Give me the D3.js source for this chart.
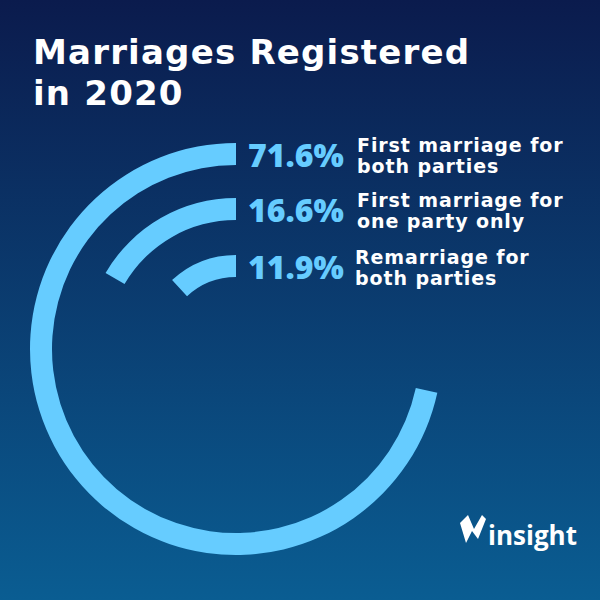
<!DOCTYPE html><html><head><meta charset="utf-8"><script src="https://cdn.jsdelivr.net/npm/d3@7"></script>
<style>body{margin:0}svg{display:block}</style></head><body><svg width="600" height="600"></svg><script>
const categories=["First marriage for|both parties","First marriage for|one party only","Remarriage for|both parties"];
const values=[71.6,16.6,11.9];
const title=["Marriages Registered","in 2020"];
const svg=d3.select("svg");
const defs=svg.append("defs");
const g=defs.append("linearGradient").attr("id","bg").attr("x1",0).attr("y1",0).attr("x2",0).attr("y2",1);
g.append("stop").attr("offset","0%").attr("stop-color","#0b1b4d");
g.append("stop").attr("offset","100%").attr("stop-color","#0a5d92");
svg.append("rect").attr("width",600).attr("height",600).attr("fill","url(#bg)");
svg.selectAll("text.t").data(title).join("text").attr("x",33).attr("y",(d,i)=>64+i*41)
 .attr("fill","#fff").attr("font-family","DejaVu Sans").attr("font-weight",700).attr("font-size",34).attr("letter-spacing",1.2).text(d=>d);
const cx=236,cy=349;
const ang=d3.scaleLinear().domain([0,100]).range([0,-2*Math.PI]);
const outer=[206,151,94];
const arc=d3.arc();
svg.append("g").attr("transform",`translate(${cx},${cy})`).selectAll("path").data(values).join("path")
 .attr("d",(d,i)=>arc({innerRadius:outer[i]-22,outerRadius:outer[i],startAngle:ang(d),endAngle:0}))
 .attr("fill","#66ccff");
const lg=svg.selectAll("g.l").data(values).join("g").attr("transform",(d,i)=>`translate(0,${cy-outer[i]+24})`);
lg.append("text").attr("x",248).attr("font-family","Open Sans").attr("font-weight",800).attr("font-size",32)
 .attr("fill","#66ccff").text(d=>d.toFixed(1)+"%");
lg.each(function(d,i){const parts=categories[i].split("|");
 d3.select(this).selectAll("text.c").data(parts).join("text").attr("x",i==2?355:357).attr("y",(p,j)=>-15+j*21)
  .attr("fill","#fff").attr("font-family","DejaVu Sans").attr("font-weight",700).attr("font-size",19).attr("letter-spacing",0.9).text(p=>p);});
const logo=svg.append("g").attr("transform","translate(460,537)");
logo.append("path").attr("d","M0,-14 L8,-22 L14,-8 L22,-22 L26,-18 L18,2 L12,-6 L6,6 Z").attr("fill","#fff");
logo.append("text").attr("x",28).attr("y",8).attr("fill","#fff").attr("font-family","Open Sans").attr("font-weight",700).attr("font-size",26).text("insight");
</script></body></html>
